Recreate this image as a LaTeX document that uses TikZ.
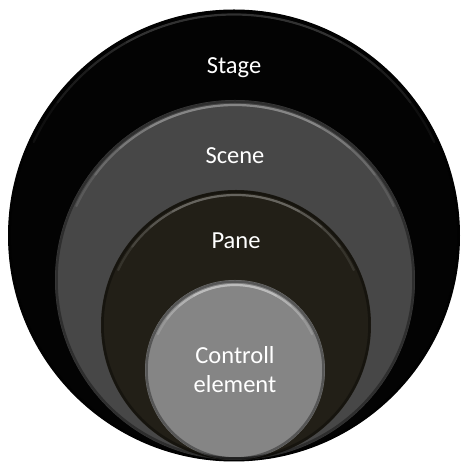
\documentclass[tikz,border=0pt]{standalone}
\usepackage{fontspec}
\setmainfont{Carlito}
\usetikzlibrary{positioning}
\definecolor{stagefill}{HTML}{030303}
\definecolor{scenefill}{HTML}{474747}
\definecolor{panefill}{HTML}{221F17}
\definecolor{controlfill}{HTML}{858585}
\tikzset{
    disc/.style = {
      circle, inner sep=0, draw=none, fill=#1,
    },
    caption/.style = {
      text=white, inner sep=0, align=center,
      font=\fontsize{24.5}{29}\selectfont,
    },
    rim/.style = {
      line width=2.5pt, black, opacity=0.35,
    },
    highlight/.style = {
      line width=2.2pt, white, opacity=#1, line cap=round,
    },
}

\begin{document}
\begin{tikzpicture}[x=1pt, y=1pt]
    \useasboundingbox (0,0) rectangle (475,468);

    %% Nested discs, all touching at the bottom
    \node [disc=stagefill, minimum size=452pt] (stage) at (234,232.5) {};
    \node [disc=scenefill, minimum size=360pt] (scene) at (235,188) {};
    \node [disc=panefill, minimum size=270pt] (pane) at (236,143) {};
    \node [disc=controlfill, minimum size=180pt] (ce) at (235,98) {};

    %% Bevel on every disc, fading towards the sides
    \foreach \n/\r/\o in {stage/226/0.05, scene/180/0.1, pane/135/0.09, ce/90/0.14}{%
      \draw [rim] (\n.center) circle (\r-1.5);
      \foreach \a in {0,12,24,36}{%
        \draw [highlight=\o] (\n.center) ++(25+\a:\r-5) arc (25+\a:155-\a:\r-5);
      }
    }

    %% Labels
    \node [caption, below=48.5pt of stage.north] (stagetext) {Stage};
    \node [caption, below=47.5pt of scene.north] (scenetext) {Scene};
    \node [caption, below=42.5pt of pane.north] (panetext) {Pane};
    \node [caption, below=66pt of ce.north] (cetext) {Controll\\element};
\end{tikzpicture}
\end{document}
